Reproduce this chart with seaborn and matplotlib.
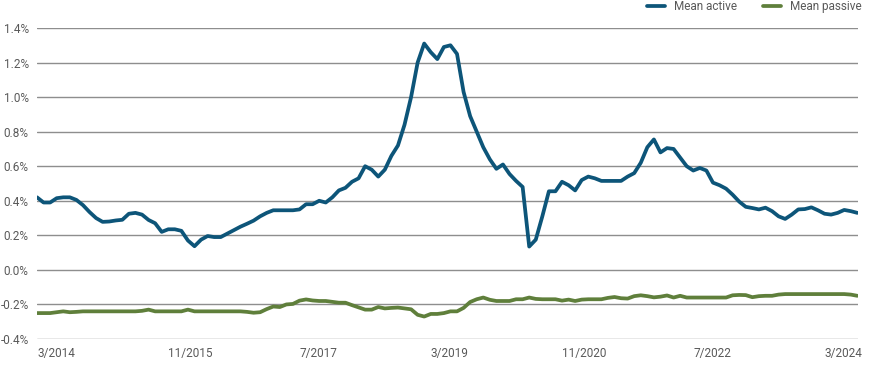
import numpy as np
import pandas as pd
import seaborn as sns
import matplotlib.pyplot as plt
from matplotlib.lines import Line2D

# Valores mensais (em %), de 3/2014 a 8/2024
mean_active = [
    0.42, 0.39, 0.39, 0.415, 0.42, 0.42, 0.405, 0.375, 0.335, 0.30,
    0.278, 0.28, 0.286, 0.29, 0.325, 0.33, 0.32, 0.289, 0.27, 0.22,
    0.235, 0.235, 0.226, 0.17, 0.137, 0.175, 0.196, 0.19, 0.19, 0.21,
    0.23, 0.25, 0.267, 0.285, 0.31, 0.33, 0.345, 0.345, 0.345, 0.345,
    0.35, 0.38, 0.38, 0.40, 0.39, 0.42, 0.46, 0.475, 0.51, 0.53,
    0.60, 0.58, 0.54, 0.58, 0.66, 0.72, 0.84, 1.00, 1.20, 1.31,
    1.26, 1.22, 1.29, 1.30, 1.25, 1.03, 0.89, 0.80, 0.71, 0.64,
    0.585, 0.61, 0.555, 0.515, 0.48, 0.135, 0.175, 0.31, 0.455, 0.455,
    0.51, 0.49, 0.46, 0.52, 0.54, 0.53, 0.515, 0.515, 0.515, 0.515,
    0.54, 0.56, 0.62, 0.71, 0.755, 0.68, 0.705, 0.70, 0.65, 0.60,
    0.575, 0.59, 0.575, 0.505, 0.49, 0.47, 0.435, 0.395, 0.365, 0.358,
    0.35, 0.36, 0.34, 0.31, 0.295, 0.32, 0.35, 0.352, 0.362, 0.345,
    0.325, 0.32, 0.33, 0.347, 0.34, 0.33,
]
mean_passive = [
    -0.25, -0.25, -0.25, -0.245, -0.24, -0.245, -0.243, -0.24, -0.24, -0.24,
    -0.24, -0.24, -0.24, -0.24, -0.24, -0.24, -0.237, -0.23, -0.24, -0.24,
    -0.24, -0.24, -0.24, -0.23, -0.24, -0.24, -0.24, -0.24, -0.24, -0.24,
    -0.24, -0.24, -0.243, -0.248, -0.245, -0.227, -0.212, -0.215, -0.20, -0.197,
    -0.178, -0.171, -0.177, -0.18, -0.18, -0.185, -0.19, -0.19, -0.204, -0.217,
    -0.23, -0.23, -0.215, -0.223, -0.22, -0.218, -0.223, -0.228, -0.26, -0.27,
    -0.255, -0.255, -0.25, -0.24, -0.24, -0.22, -0.186, -0.17, -0.16, -0.173,
    -0.18, -0.18, -0.18, -0.17, -0.17, -0.16, -0.168, -0.17, -0.17, -0.17,
    -0.178, -0.172, -0.18, -0.172, -0.17, -0.17, -0.17, -0.162, -0.157, -0.164,
    -0.166, -0.152, -0.147, -0.152, -0.159, -0.155, -0.148, -0.16, -0.15, -0.16,
    -0.16, -0.16, -0.16, -0.16, -0.16, -0.16, -0.147, -0.145, -0.146, -0.158,
    -0.152, -0.15, -0.15, -0.143, -0.14, -0.14, -0.14, -0.14, -0.14, -0.14,
    -0.14, -0.14, -0.14, -0.14, -0.143, -0.15,
]
tick_labels = ['3/2014', '11/2015', '7/2017', '3/2019', '11/2020', '7/2022', '3/2024']
y_ticks = [-0.4, -0.2, 0.0, 0.2, 0.4, 0.6, 0.8, 1.0, 1.2, 1.4]

month = np.arange(len(mean_active))
df = pd.DataFrame({
    'mes': np.concatenate([month, month]),
    'valor': mean_active + mean_passive,
    'serie': ['Mean active'] * len(mean_active) + ['Mean passive'] * len(mean_passive),
})

cores = {'Mean active': '#0d5579', 'Mean passive': '#5f7f3b'}

sns.set_style('white')
plt.rcParams['font.family'] = ['Roboto', 'DejaVu Sans']

fig = plt.figure(figsize=(8.77, 3.66), dpi=100)
ax = fig.add_axes([37 / 877, 27 / 366, 821 / 877, 311 / 366])

sns.lineplot(data=df, x='mes', y='valor', hue='serie', ax=ax,
             palette=cores, linewidth=2.7, legend=False)

ax.set_xlim(0, len(month) - 0.9)
ax.set_ylim(-0.4, 1.4)
ax.set_yticks(y_ticks)
ax.set_yticklabels([f'{v:.1f}%' for v in y_ticks])
ax.set_xticks(np.arange(0, 121, 20))
ax.set_xticklabels(tick_labels, ha='left')
ax.tick_params(axis='both', length=0, labelsize=8.5, labelcolor='#595959')
ax.tick_params(axis='x', pad=6)
ax.tick_params(axis='y', pad=6)
ax.yaxis.grid(True, color='#8e8e8e', linewidth=1.0)
ax.set_axisbelow(True)
ax.set_xlabel('')
ax.set_ylabel('')
for s in ax.spines.values():
    s.set_visible(False)

handles = [Line2D([], [], color=cores['Mean active'], lw=2.7),
           Line2D([], [], color=cores['Mean passive'], lw=2.7)]
fig.legend(handles, ['Mean active', 'Mean passive'], loc='upper right',
           bbox_to_anchor=(0.995, 1.03), ncol=2, frameon=False, fontsize=8.5,
           labelcolor='#595959', handlelength=1.5, columnspacing=2.2)

fig.savefig('out.png', dpi=100)
